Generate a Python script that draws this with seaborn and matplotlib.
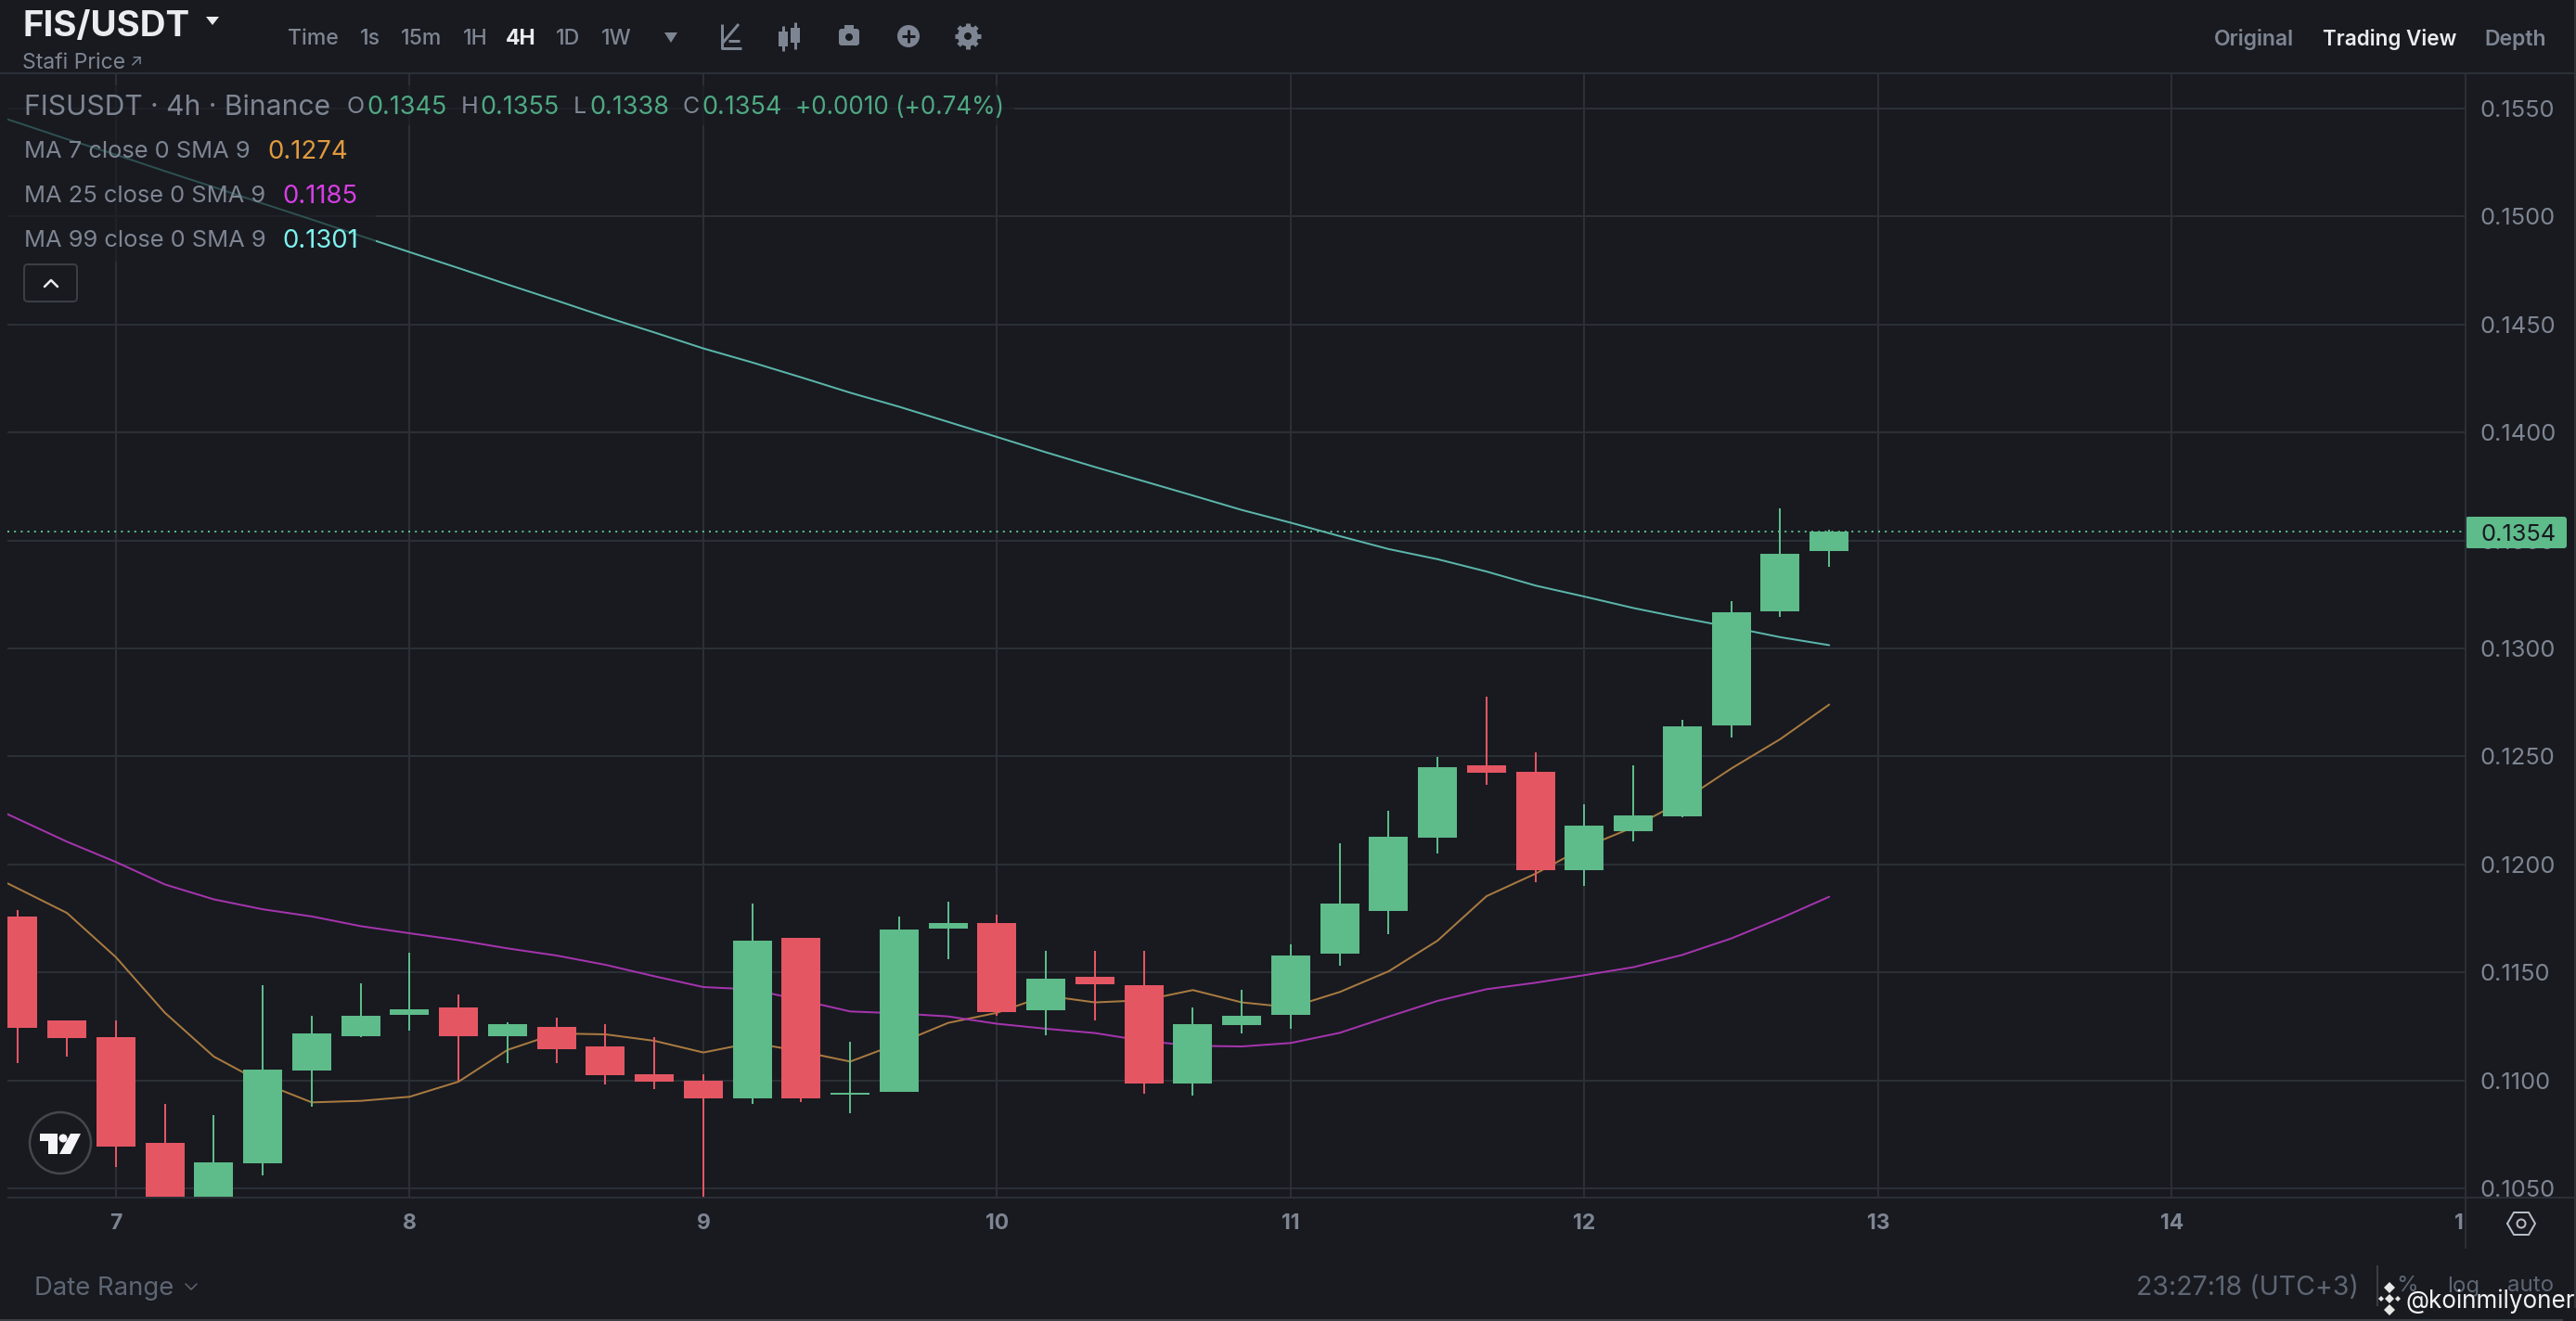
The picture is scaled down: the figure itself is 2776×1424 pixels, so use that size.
import matplotlib
matplotlib.use('Agg')
import numpy as np
import matplotlib.pyplot as plt
import seaborn as sns
from matplotlib.patches import Rectangle, Circle, Polygon, FancyBboxPatch
from matplotlib.transforms import Bbox, TransformedBbox

# ---------------------------
# Data
# ---------------------------
opens = [.11759, .11278, .11200, .10710, .1036, .10616, .11046, .11204, .11303, .11338,
         .11204, .11247, .11157, .11028, .10998, .10917, .11660, .10934, .10947, .11703,
         .11729, .11325, .11479, .11441, .10985, .11256, .11303, .11587, .11784, .12123,
         .12458, .12428, .11973, .12153, .12222, .12642, .13170, .1345]
closes = [.11243, .11196, .10693, .1036, .10620, .11050, .11217, .11299, .11329, .11204,
          .11260, .11144, .11024, .10994, .10917, .11647, .10917, .10942, .11698, .11729,
          .11316, .11471, .11445, .10985, .11260, .11299, .11578, .11819, .12127, .12450,
          .12424, .11973, .12179, .12226, .12639, .13166, .13437, .1354]
highs = [.11789, .11278, .11278, .10891, .10839, .11441, .11299, .11449, .11591, .11398,
         .11269, .11290, .11260, .11200, .11028, .11819, .11660, .11179, .11759, .11827,
         .11767, .11600, .11600, .11600, .11338, .11419, .11630, .12097, .12248, .12497,
         .12776, .12518, .12278, .12458, .12669, .13218, .13647, .1355]
lows = [.11081, .11110, .10599, .1030, .1030, .10560, .10878, .11200, .11230, .10998,
        .11080, .11080, .10981, .10960, .1040, .10891, .10899, .10848, .10947, .11561,
        .11299, .11209, .11278, .10938, .10930, .11217, .11239, .11531, .11677, .12050,
        .12368, .11917, .11900, .12106, .12218, .12586, .13145, .1338]

# moving averages start one bar earlier, off the left edge
ma7 = [.12000, .11888, .11775, .11570, .11313, .11110, .10988, .10898, .10905, .10924,
       .10994, .11141, .11217, .11213, .11183, .11129, .11174, .11134, .11087, .11172,
       .11266, .11313, .11392, .11361, .11371, .11418, .11361, .11338, .11409, .11505,
       .11647, .11853, .11957, .12079, .12172, .12294, .12444, .12580, .1274]
ma25 = [.12315, .12210, .12105, .12011, .11907, .11838, .11792, .11759, .11714, .11681,
        .11649, .11611, .11578, .11535, .11482, .11432, .11421, .11371, .11319, .11310,
        .11296, .11262, .11239, .11219, .11183, .11160, .11157, .11173, .11220, .11295,
        .11368, .11422, .11452, .11487, .11524, .11581, .11657, .11750, .1185]
ma99 = [.15507, .15434, .15358, .15286, .15210, .15136, .15060, .14986, .14910, .14835,
        .14761, .14685, .14611, .14535, .14463, .14389, .14324, .14255, .14184, .14119,
        .14049, .13979, .13908, .13840, .13774, .13708, .13641, .13582, .13520, .13460,
        .13413, .13356, .13291, .13240, .13187, .13141, .13098, .13052, .13015]

day_ticks = [7, 8, 9, 10, 11, 12, 13, 14, 15]
price_ticks = [.105, .110, .115, .120, .125, .130, .135, .140, .145, .150, .155]
last_price = .1354

# bars are 4h apart, first visible bar two bars before day 7
bar_days = 7 + np.arange(-2, 36) / 6
ma_days = 7 + np.arange(-3, 36) / 6

# ---------------------------
# Style
# ---------------------------
BG = '#181a20'
GRID = '#2b2f36'
UP = '#5ebb8a'
DOWN = '#e55663'
GREY = '#7e8592'
DIM = '#5e6673'
FONT = 'Inter'

sns.set_theme(style="dark", rc={"axes.facecolor": BG, "figure.facecolor": BG})
plt.rcParams['font.family'] = [FONT, 'DejaVu Sans']

W, H = 2776, 1424
fig = plt.figure(figsize=(W / 100, H / 100), dpi=100)
px = 0.72  # one pixel in points

ax = fig.add_axes([8 / W, 1 - 1291 / H, (2657 - 8) / W, (1291 - 79) / H])

# ---------------------------
# Plot
# ---------------------------
ax.set_xticks(day_ticks)
ax.set_yticks(price_ticks)
ax.grid(True, color=GRID, linewidth=2 * px, zorder=0)
ax.set_axisbelow(True)

sns.lineplot(x=ma_days, y=ma7, ax=ax, color='#a97a40', linewidth=2 * px, zorder=2)
sns.lineplot(x=ma_days, y=ma25, ax=ax, color='#a534ad', linewidth=2 * px, zorder=2)
sns.lineplot(x=ma_days, y=ma99, ax=ax, color='#5bb5aa', linewidth=2 * px, zorder=2)

o = np.array(opens)
c = np.array(closes)
colors = [UP if b >= a else DOWN for a, b in zip(opens, closes)]
ax.vlines(bar_days, lows, highs, colors=colors, linewidth=2 * px, zorder=3)
ax.bar(bar_days, np.abs(c - o), bottom=np.minimum(o, c), width=42 / 316.6,
       color=colors, linewidth=0, zorder=4)

ax.axhline(last_price, color=UP, linewidth=2 * px, linestyle=(0, (1, 2.6)), zorder=3)

ax.set_xlim(6.6305, 15.0)
ax.set_ylim(.10457, .15663)
ax.yaxis.tick_right()
ax.set_yticklabels([f"{p:.4f}" for p in price_ticks], fontsize=25.5 * px, color=GREY)
ax.set_xticklabels([str(d) for d in day_ticks], fontsize=23 * px, color=GREY, fontweight='bold')
ax.tick_params(axis='both', length=0)
ax.tick_params(axis='y', pad=16 * px)
ax.tick_params(axis='x', pad=17 * px)
for s in ax.spines.values():
    s.set_visible(False)

# the "15" label is cut by the price axis
clip = TransformedBbox(Bbox([[0, 0], [2656 / W, 1]]), fig.transFigure)
for tl in ax.get_xticklabels():
    tl.set_clip_box(clip)
    tl.set_clip_on(True)

# ---------------------------
# Page furniture, drawn in pixel coordinates
# ---------------------------
ui = fig.add_axes([0, 0, 1, 1], zorder=5)
ui.set_xlim(0, W)
ui.set_ylim(H, 0)
ui.axis('off')
ui.patch.set_alpha(0)


def label(x, y, s, color=GREY, size=23, ha='left', weight='normal', **kw):
    ui.text(x, y, s, color=color, fontsize=size * px, ha=ha, va='center_baseline',
            fontweight=weight, **kw)


def box(x0, y0, x1, y1, color, **kw):
    ui.add_patch(Rectangle((x0, y0), x1 - x0, y1 - y0, facecolor=color, linewidth=0, **kw))


def seg(xs, ys, color=GRID, lw=2):
    ui.plot(xs, ys, color=color, linewidth=lw * px, solid_capstyle='butt')


# axis frame lines
seg([0, W], [79, 79])
seg([8, W], [1291, 1291])
seg([2657, 2657], [79, 1346])

# veil behind the legend text
box(8, 92, 1093, 135, BG, alpha=0.65)
box(8, 135, 405, 282, BG, alpha=0.65)

# header
label(25, 25, "FIS/USDT", color='#eaecef', size=38.5, weight='bold')
ui.add_patch(Polygon([[222, 18], [236, 18], [229, 27]], color='#eaecef', linewidth=0))
label(24, 65, "Stafi Price", color=GREY, size=23)
label(139, 64, "↗", color=GREY, size=18)

for x, s in zip([337, 399, 454, 512, 612, 664], ["Time", "1s", "15m", "1H", "1D", "1W"]):
    label(x, 40, s, size=23, ha='center', weight='medium')
label(561, 40, "4H", color='#eaecef', size=23, ha='center', weight='bold')
ui.add_patch(Polygon([[716, 35], [730, 35], [723, 46]], color=GREY, linewidth=0))

# toolbar icons
seg([778, 778, 799], [26, 52, 52], color=GREY, lw=3)
seg([779, 796], [46, 26], color=GREY, lw=3)
seg([785, 797], [44, 44], color=GREY, lw=3)
for x, top, bot, b0, b1 in [(844, 28, 55, 34, 50), (857, 24, 53, 30, 46)]:
    seg([x, x], [top, bot], color=GREY, lw=3)
    box(x - 5, b0, x + 5, b1, GREY)
ui.add_patch(FancyBboxPatch((904, 31), 22, 18, boxstyle="round,pad=0,rounding_size=3",
                            facecolor=GREY, linewidth=0))
box(910, 27, 920, 32, GREY)
ui.add_patch(Circle((915, 40), 4, color=BG, linewidth=0))
ui.add_patch(Circle((979, 39), 12, color=GREY, linewidth=0))
seg([972, 986], [39, 39], color=BG, lw=3)
seg([979, 979], [32, 46], color=BG, lw=3)
ui.add_patch(Circle((1043, 39), 11, color=GREY, linewidth=0))
ui.add_patch(Circle((1043, 39), 4, color=BG, linewidth=0))
for a in np.arange(0, 360, 45):
    t = np.radians(a)
    seg([1043 + 9 * np.cos(t), 1043 + 14 * np.cos(t)], [39 + 9 * np.sin(t), 39 + 14 * np.sin(t)],
        color=GREY, lw=5)

label(2429, 40, "Original", ha='center', weight='semibold')
label(2575, 40, "Trading View", color='#eaecef', size=22.5, ha='center', weight='semibold')
label(2711, 40, "Depth", ha='center', weight='semibold')

# legend
GREEN_TXT = '#4fa982'
label(26, 113, "FISUSDT · 4h · Binance", size=30, color=GREY)
for x, s in zip([374, 497, 618, 736], "OHLC"):
    label(x, 113, s, size=25)
for x, s in zip([395, 517, 635, 756], ["0.1345", "0.1355", "0.1338", "0.1354"]):
    label(x, 113, s, size=27, color=GREEN_TXT)
label(857, 113, "+0.0010 (+0.74%)", size=26, color=GREEN_TXT)

for y, s, vx, v, col in [(161, "MA 7 close 0 SMA 9", 288, "0.1274", '#e09a3e'),
                         (209, "MA 25 close 0 SMA 9", 304, "0.1185", '#d63fe2'),
                         (257, "MA 99 close 0 SMA 9", 304, "0.1301", '#7ef2ef')]:
    label(26, y, s, size=25.5)
    label(vx, y, v, size=27.5, color=col)

ui.add_patch(FancyBboxPatch((26, 285), 57, 40, boxstyle="round,pad=0,rounding_size=4",
                            facecolor=BG, edgecolor='#3a3e45', linewidth=2 * px))
ui.plot([48, 55, 62], [309, 302, 309], color='#eaecef', linewidth=2.5 * px)

# last price tag
ui.add_patch(FancyBboxPatch((2657, 557), 109, 34, boxstyle="round,pad=0,rounding_size=3",
                            facecolor=UP, linewidth=0))
label(2714, 574, "0.1354", color=BG, size=25.5, ha='center')

# TradingView badge
ui.add_patch(Circle((65, 1232), 33, facecolor=BG, edgecolor='#44474d', linewidth=2.5 * px))
box(43, 1222, 62, 1230, '#f5f5f7')
box(52, 1222, 62, 1244, '#f5f5f7')
ui.add_patch(Circle((68, 1227), 4.5, color='#f5f5f7', linewidth=0))
ui.add_patch(Polygon([[76, 1222], [87, 1222], [76, 1244], [64, 1244]], color='#f5f5f7', linewidth=0))

# scale settings icon
hx = [2702, 2709, 2725, 2732, 2725, 2709, 2702]
hy = [1319, 1307, 1307, 1319, 1331, 1331, 1319]
ui.plot(hx, hy, color='#b7bdc6', linewidth=2 * px)
ui.add_patch(Circle((2717, 1319), 4.5, facecolor=BG, edgecolor='#b7bdc6', linewidth=2 * px))

# bottom bar
label(37, 1386, "Date Range", color=DIM, size=27.5)
ui.plot([200, 206, 212], [1384, 1390, 1384], color=DIM, linewidth=1.5 * px)
label(2302, 1386, "23:27:18 (UTC+3)", color=DIM, size=28.5)
seg([2562, 2562], [1364, 1408], color='#3a3e45')
label(2594, 1384, "%", color=DIM, size=24, ha='center')
label(2655, 1384, "log", color=DIM, size=24, ha='center')
label(2727, 1384, "auto", color=DIM, size=24, ha='center')

# watermark
for x, y, r in [(2575, 1388, 6), (2575, 1412, 6), (2566, 1400, 3), (2584, 1400, 3)]:
    ui.add_patch(Polygon([[x - r, y], [x, y - r], [x + r, y], [x, y + r]], color='#e6e6e6', linewidth=0))
ui.add_patch(Polygon([[2570, 1400], [2575, 1395], [2580, 1400], [2575, 1405]], color='#e6e6e6', linewidth=0))
label(2593, 1400, "@koinmilyoner", color='#f2f2f2', size=26)

# window edge
seg([0, W - 14], [1423, 1423], color='#3a3e45')
seg([W - 1, W - 1], [0, H - 14], color='#2f3237')

fig.savefig("out.png", dpi=100, facecolor=BG)
plt.close()
